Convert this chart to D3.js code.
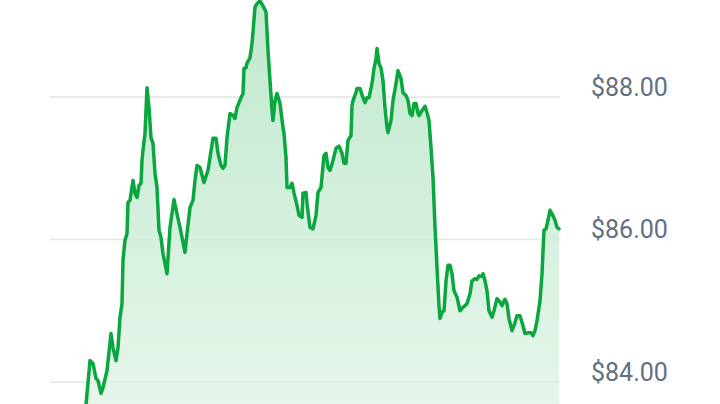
<!DOCTYPE html>
<html>
<head>
<meta charset="utf-8">
<script src="https://cdn.jsdelivr.net/npm/d3@7"></script>
<style>
html,body{margin:0;padding:0;background:#fff;overflow:hidden;}
svg{display:block;}
</style>
</head>
<body>
<svg id="chart" width="720" height="404"></svg>
<script>
// minutes since start of the window
const minutes = [0,4,7,10,12,15,17,21,25,27,30,32,34,36,37,39,41,42,44,47,49,51,53,55,56,57,59,60,61,63,65,67,69,71,73,75,77,81,84,88,91,94,99,101,104,107,109,111,114,118,122,127,130,132,135,137,139,141,144,147,149,151,155,157,158,160,161,164,166,167,169,171,174,177,180,182,184,186,187,189,191,194,197,198,200,201,204,206,208,211,213,216,217,220,221,224,227,230,232,235,238,240,242,244,247,250,253,256,258,260,262,265,266,267,270,271,274,277,279,281,283,286,288,290,291,293,295,297,299,301,302,305,307,310,312,315,317,320,322,324,326,328,330,332,333,336,339,341,343,345,347,349,351,353,354,356,358,360,362,364,366,368,371,374,377,379,381,384,386,389,391,393,396,397,399,401,403,406,408,411,414,416,419,421,423,426,428,431,434,437,439,442,445,447,449,451,454,456,458,460,462,464,466,469,471,473];
const prices = [83.68,84.30,84.26,84.05,84.02,83.84,83.92,84.16,84.68,84.48,84.30,84.48,84.91,85.10,85.71,85.99,86.08,86.52,86.55,86.83,86.65,86.59,86.76,86.79,87.11,87.25,87.49,87.81,88.13,87.85,87.43,87.35,86.93,86.73,86.13,86.03,85.80,85.52,86.17,86.56,86.36,86.17,85.82,86.08,86.45,86.55,86.83,87.04,87.01,86.80,86.97,87.42,87.42,87.21,87.04,87.00,87.04,87.43,87.77,87.74,87.70,87.85,87.99,88.05,88.40,88.41,88.48,88.55,88.75,88.91,89.26,89.31,89.35,89.28,89.19,88.65,88.23,87.81,87.67,87.95,88.05,87.91,87.57,87.49,87.15,86.73,86.73,86.79,86.65,86.48,86.34,86.31,86.65,86.66,86.51,86.17,86.15,86.34,86.66,86.73,87.18,87.21,87.01,86.97,87.11,87.28,87.31,87.21,87.07,87.07,87.39,87.46,87.88,87.95,88.06,88.12,88.12,87.99,87.92,87.99,87.99,88.19,88.40,88.54,88.68,88.47,88.41,88.23,87.85,87.57,87.50,87.67,87.95,88.19,88.37,88.26,88.06,88.02,87.95,87.77,87.74,87.91,87.91,87.77,87.74,87.81,87.87,87.78,87.67,87.29,86.87,86.17,85.61,85.07,84.89,84.98,85.00,85.42,85.64,85.64,85.52,85.28,85.19,85.00,85.05,85.07,85.10,85.24,85.42,85.45,85.44,85.49,85.48,85.52,85.42,85.28,85.00,84.91,85.00,85.17,85.12,85.07,85.16,85.10,84.89,84.72,84.79,84.93,84.93,84.79,84.68,84.69,84.69,84.65,84.72,84.86,85.14,85.52,86.13,86.15,86.27,86.41,86.36,86.27,86.17,86.15];
const tickValues = [84, 86, 88];
const tickLabels = ["$84.00", "$86.00", "$88.00"];

const svg = d3.select("#chart");
const W = 720, H = 404;
const data = minutes.map((m, i) => ({t: m, p: prices[i]}));

const x = d3.scaleLinear().domain([0, 474]).range([86, 560]);
const y = d3.scaleLinear().domain([84, 88]).range([382, 97]);

const defs = svg.append("defs");
const grad = defs.append("linearGradient").attr("id","fillGrad")
  .attr("gradientUnits","userSpaceOnUse")
  .attr("x1",0).attr("y1",0).attr("x2",0).attr("y2",H);
grad.append("stop").attr("offset","0%").attr("stop-color","#b9e6c8");
grad.append("stop").attr("offset","100%").attr("stop-color","#e3f5e9");
defs.append("clipPath").attr("id","clip").append("rect")
  .attr("x",0).attr("y",0).attr("width",W).attr("height",H);

// gridlines
svg.append("g").selectAll("line").data(tickValues).join("line")
  .attr("x1",50).attr("x2",560)
  .attr("y1",d=>y(d)).attr("y2",d=>y(d))
  .attr("stroke","#ebedf0").attr("stroke-width",1.5);

const area = d3.area().x(d=>x(d.t)).y0(H+10).y1(d=>y(d.p)).curve(d3.curveLinear);
const line = d3.line().x(d=>x(d.t)).y(d=>y(d.p)).curve(d3.curveLinear);

const g = svg.append("g").attr("clip-path","url(#clip)");
g.append("path").datum(data).attr("d",area).attr("fill","url(#fillGrad)").attr("opacity",0.9);
g.append("g").selectAll("line").data(tickValues).join("line")
  .attr("x1",50).attr("x2",560)
  .attr("y1",d=>y(d)).attr("y2",d=>y(d))
  .attr("stroke","#d5e6dc").attr("stroke-width",1.5).attr("opacity",0.5);
g.append("path").datum(data).attr("d",line)
  .attr("fill","none").attr("stroke","#0aa63e").attr("stroke-width",3.5)
  .attr("stroke-linejoin","round").attr("stroke-linecap","round");

// axis labels
const axis = d3.axisRight(y).tickValues(tickValues)
  .tickFormat((d,i)=>tickLabels[i]).tickSize(0).tickPadding(0);
const ag = svg.append("g").attr("transform","translate(591,0)").call(axis);
ag.select(".domain").remove();
ag.selectAll("text")
  .attr("font-family","Roboto, 'Open Sans', sans-serif")
  .attr("font-size",25).attr("fill","#627082")
  .attr("dy",null).attr("y",-2)
  .attr("dominant-baseline","auto");
</script>
</body>
</html>
